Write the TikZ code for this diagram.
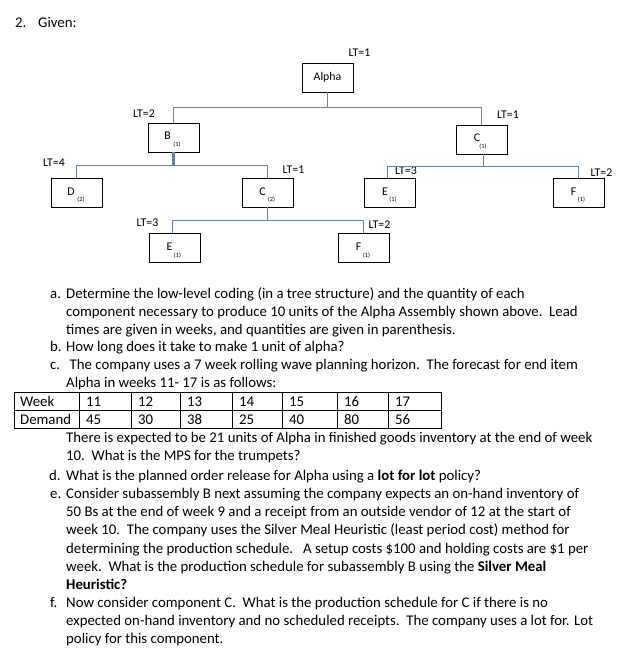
\documentclass[tikz,border=0pt]{standalone}
\usepackage{fontspec}
\setmainfont{Carlito}
\definecolor{lineblue}{RGB}{108,130,160}
\newcommand{\bodyfont}{\fontsize{14.8}{18}\selectfont}
\begin{document}
\begin{tikzpicture}[x=1pt,y=-1pt,
  box/.style={draw=black,line width=0.8pt,fill=white,minimum width=51pt,minimum height=29pt,inner sep=0pt},
  conn/.style={draw=lineblue,line width=1pt},
  thick conn/.style={draw=lineblue,line width=2.2pt},
  lt/.style={font=\fontsize{11.8}{12}\selectfont,inner sep=0pt},
  let/.style={font=\fontsize{11.8}{12}\selectfont,inner sep=0pt},
  sub/.style={font=\fontsize{6.3}{6}\selectfont,inner sep=0pt},
  txt/.style={anchor=base west,inner sep=0pt,font=\bodyfont},
  tcell/.style={anchor=base west,inner sep=0pt,font=\bodyfont}]
\useasboundingbox (0,0) rectangle (626,664);

% ---------- header ----------
\node[txt] (num) at (15,27) {2.};
\node[txt] (given) at (38,27) {Given:};

% ---------- tree boxes ----------
\node[box] (alpha) at (327.5,77.5) {};
\node[box] (b)  at (173.5,137.5) {};
\node[box] (c1) at (481.5,139.5) {};
\node[box] (d)  at (76.5,192.5) {};
\node[box] (c2) at (267.5,192.5) {};
\node[box] (e2) at (390,192.5) {};
\node[box] (f1) at (578.5,192.5) {};
\node[box] (e3) at (174.5,248) {};
\node[box] (f3) at (363.5,248) {};

% box contents
\node[let] (alphaT) at (alpha.center) {Alpha};
\node[let] (bT)  at ([shift={(-6,-1.5)}]b.center) {B};
\node[sub] (bS)  at ([shift={(3.5,7.5)}]b.center) {(1)};
\node[let] (c1T) at ([shift={(-4.5,-1.5)}]c1.center) {C};
\node[sub] (c1S) at ([shift={(1.5,7.5)}]c1.center) {(1)};
\node[let] (dT)  at ([shift={(-5.5,-0.5)}]d.center) {D};
\node[sub] (dS)  at ([shift={(4.5,7.5)}]d.center) {(2)};
\node[let] (c2T) at ([shift={(-5,-0.5)}]c2.center) {C};
\node[sub] (c2S) at ([shift={(4,7.5)}]c2.center) {(2)};
\node[let] (e2T) at ([shift={(-5,-0.5)}]e2.center) {E};
\node[sub] (e2S) at ([shift={(3,7.5)}]e2.center) {(1)};
\node[let] (f1T) at ([shift={(-5,-0.5)}]f1.center) {F};
\node[sub] (f1S) at ([shift={(3,7.5)}]f1.center) {(1)};
\node[let] (e3T) at ([shift={(-5,-1)}]e3.center) {E};
\node[sub] (e3S) at ([shift={(3,7.5)}]e3.center) {(1)};
\node[let] (f3T) at ([shift={(-5,-1)}]f3.center) {F};
\node[sub] (f3S) at ([shift={(3,7.5)}]f3.center) {(1)};

% LT labels
\node[lt] (ltalpha) at (359.5,53) {LT=1};
\node[lt] (ltb)  at (144,114) {LT=2};
\node[lt] (ltc1) at (508,115) {LT=1};
\node[lt] (ltd)  at (54,163) {LT=4};
\node[lt] (ltc2) at (293.5,170) {LT=1};
\node[lt] (lte2) at (406,171) {LT=3};
\node[lt] (ltf1) at (601.5,173) {LT=2};
\node[lt] (lte3) at (147.5,223) {LT=3};
\node[lt] (ltf3) at (379.5,225) {LT=2};

% ---------- connectors ----------
\draw[conn] (alpha.south) -- ++(0,15.5) coordinate (j1);
\draw[conn] (b.north) |- (j1) -| (c1.north);

\draw[thick conn] (b.south) -- ++(0,13) coordinate (j2);
\draw[conn] (d.north) |- (j2) -| (c2.north);

\draw[conn] (c2.south) -- ++(0,13) coordinate (j3);
\draw[conn] ([xshift=-2.5pt]e3.north) |- (j3) -| (f3.north);

\draw[conn] ([xshift=1.5pt]c1.south) -- ++(0,12) coordinate (j4);
\draw[conn] ([xshift=-3pt]e2.north) |- (j4) -| (f1.north);

% ---------- questions ----------
\node[txt] (la) at (50,298.5) {a.};
\node[txt] (a1) at (66,298.5) {Determine the low-level coding (in a tree structure) and the quantity of each};
\node[txt] (a2) at (66,316.5) {component necessary to produce 10 units of the Alpha Assembly shown above.\ \ Lead};
\node[txt] (a3) at (66,334) {times are given in weeks, and quantities are given in parenthesis.};
\node[txt] (lb) at (50,351.5) {b.};
\node[txt] (b1) at (66,351.5) {How long does it take to make 1 unit of alpha?};
\node[txt] (lc) at (50,369.5) {c.};
\node[txt] (c1t) at (69.5,369.5) {The company uses a 7 week rolling wave planning horizon.\ \ The forecast for end item};
\node[txt] (c2t) at (66,387) {Alpha in weeks 11- 17 is as follows:};

% table
\draw[line width=0.9pt] (14,392) rectangle (441,428);
\draw[line width=0.9pt] (14,410) -- (441,410);
\foreach \cx in {79,131,180,232,282,337,388}
  \draw[line width=0.9pt] (\cx,392) -- (\cx,428);
\node[tcell] (wk)  at (20,406) {Week};
\node[tcell] (w11) at (86,406) {11};
\node[tcell] (w12) at (138,406) {12};
\node[tcell] (w13) at (187,406) {13};
\node[tcell] (w14) at (239,406) {14};
\node[tcell] (w15) at (289,406) {15};
\node[tcell] (w16) at (344,406) {16};
\node[tcell] (w17) at (395,406) {17};
\node[tcell] (dm)  at (20,424) {Demand};
\node[tcell] (d11) at (86,424) {45};
\node[tcell] (d12) at (138,424) {30};
\node[tcell] (d13) at (187,424) {38};
\node[tcell] (d14) at (239,424) {25};
\node[tcell] (d15) at (289,424) {40};
\node[tcell] (d16) at (344,424) {80};
\node[tcell] (d17) at (395,424) {56};

\node[txt] (c3t) at (66,442.5) {There is expected to be 21 units of Alpha in finished goods inventory at the end of week};
\node[txt] (c4t) at (66,460) {10.\ \ What is the MPS for the trumpets?};
\node[txt] (ld) at (49,480.5) {d.};
\node[txt] (d1) at (66,480.5) {What is the planned order release for Alpha using a \textbf{lot for lot} policy?};
\node[txt] (le) at (50,498.5) {e.};
\node[txt] (e1) at (66,498.5) {Consider subassembly B next assuming the company expects an on-hand inventory of};
\node[txt] (e2t) at (66,516.5) {50 Bs at the end of week 9 and a receipt from an outside vendor of 12 at the start of};
\node[txt] (e3t) at (66,534.5) {week 10.\ \ The company uses the Silver Meal Heuristic (least period cost) method for};
\node[txt] (e4t) at (66,553) {determining the production schedule.\ \ \ A setup costs \$100 and holding costs are \$1 per};
\node[txt] (e5t) at (66,571) {week.\ \ What is the production schedule for subassembly B using the \textbf{Silver Meal}};
\node[txt] (e6t) at (66,589) {\textbf{Heuristic?}};
\node[txt] (lf) at (50,607) {f.};
\node[txt] (f1t) at (66,607) {Now consider component C.\ \ What is the production schedule for C if there is no};
\node[txt] (f2t) at (66,625) {expected on-hand inventory and no scheduled receipts.\ \ The company uses a lot for. Lot};
\node[txt] (f3t) at (66,643) {policy for this component.};
\end{tikzpicture}
\end{document}
